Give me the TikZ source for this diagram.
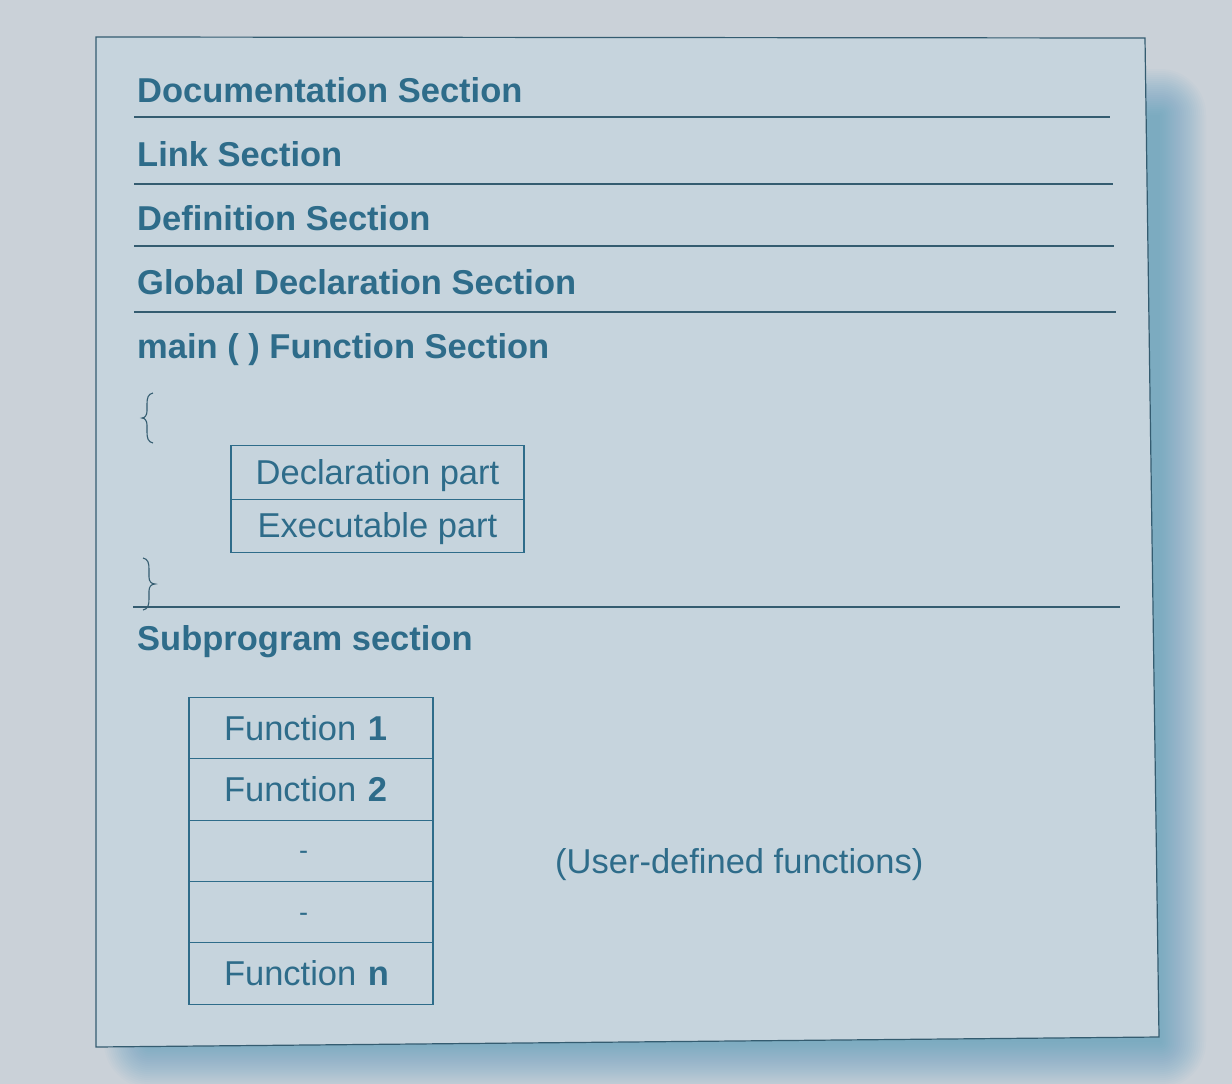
\documentclass[tikz,border=0pt]{standalone}
\usepackage{fontspec}
\setmainfont{Liberation Sans}
\definecolor{bgc}{RGB}{202,209,216}
\definecolor{paperc}{RGB}{198,212,221}
\definecolor{inkc}{RGB}{46,108,138}
\definecolor{linec}{RGB}{52,92,112}
\definecolor{shc}{RGB}{60,145,190}
\tikzset{
  head/.style={inkc, font=\fontsize{34.5}{40}\selectfont\bfseries, inner sep=0pt, anchor=base west},
  sep/.style={linec, line width=1.3pt},
  cell/.style={draw=linec, line width=1.1pt, inkc, font=\fontsize{34.5}{40}\selectfont,
    text height=24pt, text depth=0pt, inner ysep=0pt},
  fcell/.style={cell, minimum width=244pt, minimum height=61.4pt, text width=174pt, inner xsep=35pt, align=left},
  dcell/.style={cell, minimum width=293pt, minimum height=53.3pt, align=center},
  brace/.style={linec, line width=1.1pt}
}
\begin{document}
\begin{tikzpicture}[x=1pt,y=-1pt]
\useasboundingbox (0,0) rectangle (1232,1084);
\fill[bgc] (0,0) rectangle (1232,1084);
% soft shadow
\foreach \d in {0,2,...,46}{
  \fill[shc, fill opacity=0.028, rounded corners=\d pt] (150-\d,115-\d) rectangle (1160+\d,1042+\d);
}
% frame
\draw[linec, line width=1.2pt, fill=paperc] (96,37) -- (1145,38) -- (1159,1037) -- (96,1047) -- cycle;
% headings
\node[head] (doc) at (137,102) {Documentation Section};
\draw[sep] (134,117) -- (1110,117);
\node[head] (link) at (137,166) {Link Section};
\draw[sep] (134,184) -- (1113,184);
\node[head] (def) at (137,230) {Definition Section};
\draw[sep] (134,246) -- (1114,246);
\node[head] (glob) at (137,294) {Global Declaration Section};
\draw[sep] (134,312) -- (1116,312);
\node[head] (main) at (137,358) {main ( ) Function Section};
% braces
\draw[brace] (153,393) .. controls (148,394) and (147,398) .. (147,404) -- (147,411)
  .. controls (147,415) and (145,418) .. (142,418)
  .. controls (145,418) and (147,421) .. (147,425) -- (147,432)
  .. controls (147,438) and (148,442) .. (153,443);
\draw[brace] (143,558) .. controls (148,559) and (149,563) .. (149,569) -- (149,577)
  .. controls (149,581) and (151,584) .. (155,584)
  .. controls (151,584) and (149,587) .. (149,591) -- (149,599)
  .. controls (149,605) and (148,609) .. (143,610);
% main body boxes
\node[dcell] (decl) at (377.5,472.5) {Declaration part};
\node[dcell] (exec) at (377.5,525.8) {Executable part};
\draw[sep] (133,607) -- (1120,607);
\node[head] (sub) at (137,650) {Subprogram section};
% functions
\node[fcell] (f1) at (311,728) {Function \textbf{1}};
\node[fcell] (f2) at (311,789.4) {Function \textbf{2}};
\node[fcell] (f3) at (311,850.8) {\hspace*{75pt}\raisebox{3pt}{\fontsize{27}{28}\selectfont -}};
\node[fcell] (f4) at (311,912.2) {\hspace*{75pt}\raisebox{3pt}{\fontsize{27}{28}\selectfont -}};
\node[fcell] (fn) at (311,973.6) {Function \textbf{n}};
\node[inkc, font=\fontsize{34.5}{40}\selectfont, inner sep=0pt, anchor=base west] (udf) at (555,873) {(User-defined functions)};
\end{tikzpicture}
\end{document}
